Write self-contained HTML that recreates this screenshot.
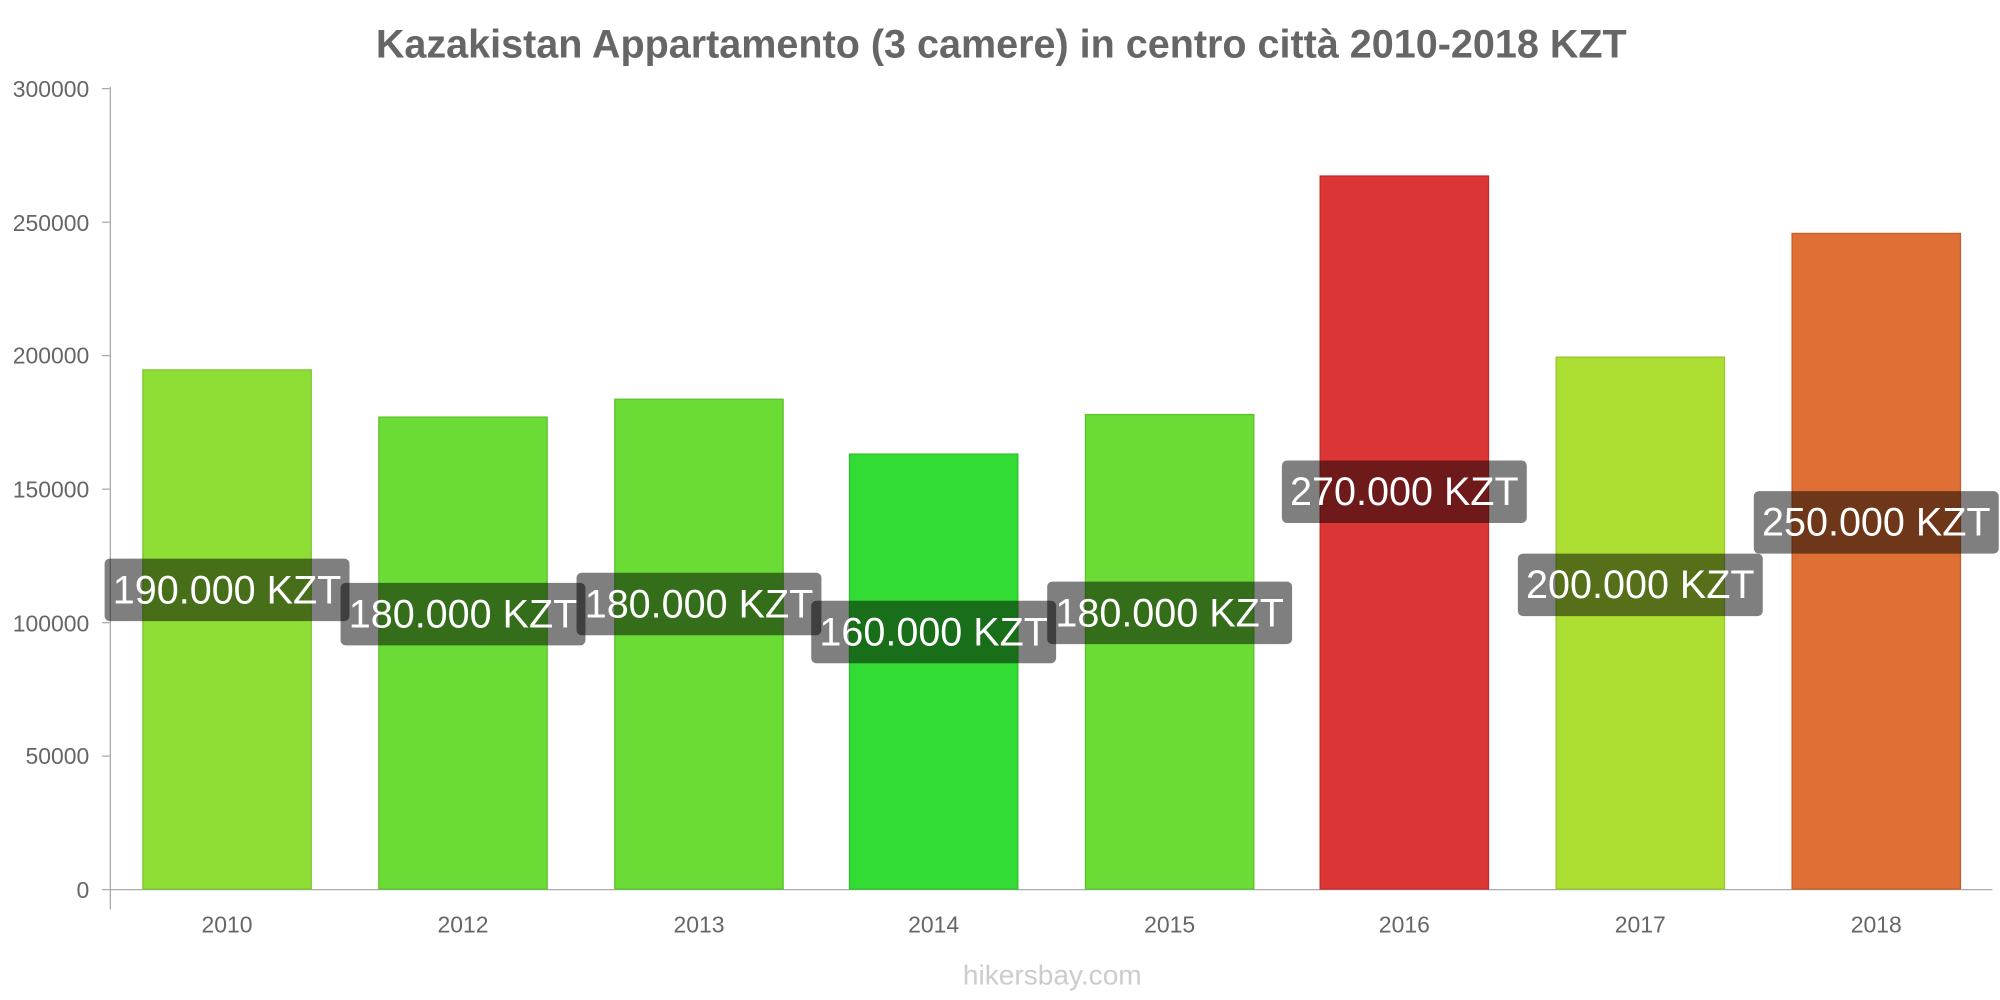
<!DOCTYPE html>
<html><head><meta charset="utf-8"><style>html,body{margin:0;padding:0;background:#fff}svg{display:block}</style></head>
<body>
<svg width="2000" height="1000" viewBox="0 0 1568 784" xmlns="http://www.w3.org/2000/svg" font-family="Liberation Sans, sans-serif">
<rect width="1568" height="784" fill="#fff"/>
<text x="785" y="45" text-anchor="middle" font-size="31" font-weight="bold" fill="#666">Kazakistan Appartamento (3 camere) in centro città 2010-2018 KZT</text>
<g stroke="#aaa" stroke-width="1">
<line x1="86.5" y1="68" x2="86.5" y2="713"/>
<line x1="86" y1="697.5" x2="1562" y2="697.5"/>
<line x1="80" y1="697.5" x2="86" y2="697.5"/>
<line x1="80" y1="592.8" x2="86" y2="592.8"/>
<line x1="80" y1="488.2" x2="86" y2="488.2"/>
<line x1="80" y1="383.5" x2="86" y2="383.5"/>
<line x1="80" y1="278.8" x2="86" y2="278.8"/>
<line x1="80" y1="174.2" x2="86" y2="174.2"/>
<line x1="80" y1="69.5" x2="86" y2="69.5"/>
</g>
<g font-size="18" fill="#666" text-anchor="end">
<text x="70" y="704">0</text>
<text x="70" y="599">50000</text>
<text x="70" y="495">100000</text>
<text x="70" y="390">150000</text>
<text x="70" y="285">200000</text>
<text x="70" y="181">250000</text>
<text x="70" y="76">300000</text>
</g>
<g stroke-width="1">
<rect x="112" y="290" width="132" height="407" fill="#8ede35" stroke="#7cc42c"/>
<rect x="297" y="327" width="132" height="370" fill="#6bdc35" stroke="#5cc22c"/>
<rect x="482" y="313" width="132" height="384" fill="#6bdc35" stroke="#5cc22c"/>
<rect x="666" y="356" width="132" height="341" fill="#33dc35" stroke="#2cc22c"/>
<rect x="851" y="325" width="132" height="372" fill="#6bdc35" stroke="#5cc22c"/>
<rect x="1035" y="138" width="132" height="559" fill="#dc3535" stroke="#c22c2c"/>
<rect x="1220" y="280" width="132" height="417" fill="#addf33" stroke="#98c42c"/>
<rect x="1405" y="183" width="132" height="514" fill="#de6f35" stroke="#c45e2c"/>
</g>
<g font-size="18" fill="#666" text-anchor="middle">
<text x="178" y="731">2010</text><text x="363" y="731">2012</text><text x="548" y="731">2013</text><text x="732" y="731">2014</text>
<text x="917" y="731">2015</text><text x="1101" y="731">2016</text><text x="1286" y="731">2017</text><text x="1471" y="731">2018</text>
</g>
<g fill="rgba(0,0,0,0.5)">
<rect x="82" y="438" width="192" height="49" rx="4"/>
<rect x="267" y="457" width="192" height="49" rx="4"/>
<rect x="452" y="449" width="192" height="49" rx="4"/>
<rect x="636" y="471" width="192" height="49" rx="4"/>
<rect x="821" y="456" width="192" height="49" rx="4"/>
<rect x="1005" y="361" width="192" height="49" rx="4"/>
<rect x="1190" y="434" width="192" height="49" rx="4"/>
<rect x="1375" y="385" width="192" height="49" rx="4"/>
</g>
<g font-size="31" fill="#fff" text-anchor="middle">
<text x="178" y="473">190.000 KZT</text>
<text x="363" y="492">180.000 KZT</text>
<text x="548" y="484">180.000 KZT</text>
<text x="732" y="506">160.000 KZT</text>
<text x="917" y="491">180.000 KZT</text>
<text x="1101" y="396">270.000 KZT</text>
<text x="1286" y="469">200.000 KZT</text>
<text x="1471" y="420">250.000 KZT</text>
</g>
<text x="825" y="772" text-anchor="middle" font-size="22" fill="#ccc">hikersbay.com</text>
</svg>
</body></html>
